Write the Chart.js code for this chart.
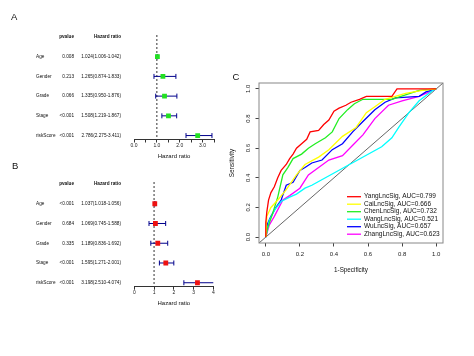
<!DOCTYPE html>
<html><head><meta charset="utf-8">
<script src="https://cdn.jsdelivr.net/npm/chart.js@4.4.0/dist/chart.umd.min.js"></script>
<style>
html,body{margin:0;padding:0;background:#fff;width:474px;height:356px;overflow:hidden;}
#wrap{position:relative;width:474px;height:356px;}
canvas{position:absolute;left:0;top:0;}
.lbl{position:absolute;font-family:"Liberation Sans",Arial,sans-serif;font-size:9.5px;line-height:9.5px;color:#111;}
</style></head><body>
<div id="wrap">
<canvas id="cA" width="474" height="356"></canvas>
<canvas id="cB" width="474" height="356"></canvas>
<canvas id="cC" width="474" height="356"></canvas>
<div class="lbl" style="left:11px;top:12px">A</div>
<div class="lbl" style="left:12px;top:161.4px">B</div>
<div class="lbl" style="left:232.5px;top:71.5px">C</div>
</div>
<script>
// ---------- data ----------
const rowNames = ['Age','Gender','Grade','Stage','riskScore'];
const uniP    = ['0.008','0.213','0.066','<0.001','<0.001'];
const uniHR   = [1.024, 1.265, 1.335, 1.508, 2.786];
const uniLow  = [1.006, 0.874, 0.950, 1.219, 2.275];
const uniHigh = [1.042, 1.833, 1.876, 1.867, 3.411];
const multiP    = ['<0.001','0.684','0.335','<0.001','<0.001'];
const multiHR   = [1.037, 1.069, 1.189, 1.595, 3.198];
const multiLow  = [1.018, 0.745, 0.836, 1.271, 2.510];
const multiHigh = [1.056, 1.588, 1.692, 2.001, 4.074];
const uniTicks   = [0, 0.5, 1, 1.5, 2, 2.5, 3, 3.5];
const multiTicks = [0, 1, 2, 3, 4];
const refHR = 1;

const rocTicks = [0, 0.2, 0.4, 0.6, 0.8, 1.0];
const rocNames = ['YangLncSig','CaiLncSig','ChenLncSig','WangLncSig','WuLncSig','ZhangLncSig'];
const rocAUC   = ['0.799','0.666','0.732','0.521','0.657','0.623'];
const yangFPR = [0,0,0.006,0.016,0.03,0.05,0.07,0.09,0.12,0.14,0.16,0.18,0.21,0.24,0.26,0.31,0.34,0.37,0.40,0.43,0.47,0.50,0.55,0.59,0.74,0.77,1];
const yangTPR = [0,0.10,0.17,0.25,0.30,0.34,0.40,0.45,0.49,0.53,0.56,0.60,0.63,0.66,0.71,0.72,0.76,0.79,0.85,0.87,0.89,0.91,0.93,0.95,0.95,1,1];
const caiFPR = [0,0.006,0.03,0.07,0.12,0.18,0.23,0.31,0.37,0.45,0.53,0.59,0.64,0.70,0.82,0.92,1];
const caiTPR = [0,0.14,0.20,0.25,0.32,0.42,0.49,0.54,0.59,0.68,0.74,0.84,0.88,0.93,0.97,0.99,1];
const chenFPR = [0,0.01,0.04,0.07,0.10,0.13,0.16,0.21,0.25,0.29,0.35,0.39,0.43,0.48,0.52,0.57,0.74,0.82,0.90,1];
const chenTPR = [0,0.06,0.16,0.27,0.42,0.47,0.53,0.56,0.60,0.63,0.67,0.71,0.80,0.86,0.90,0.93,0.93,0.96,0.99,1];
const wangFPR = [0,0.02,0.05,0.09,0.14,0.18,0.23,0.27,0.68,0.74,0.78,0.84,0.90,0.98,1];
const wangTPR = [0,0.11,0.18,0.24,0.27,0.29,0.33,0.35,0.61,0.67,0.74,0.84,0.92,0.99,1];
const wuFPR = [0,0.01,0.03,0.06,0.09,0.12,0.16,0.20,0.23,0.27,0.33,0.39,0.45,0.51,0.57,0.64,0.70,0.76,0.90,0.94,1];
const wuTPR = [0,0.09,0.14,0.20,0.25,0.35,0.37,0.45,0.47,0.50,0.52,0.59,0.63,0.71,0.78,0.86,0.91,0.94,0.95,0.98,1];
const zhangFPR = [0,0.02,0.05,0.10,0.14,0.20,0.25,0.31,0.37,0.45,0.51,0.57,0.64,0.72,0.80,0.90,0.96,1];
const zhangTPR = [0,0.08,0.14,0.25,0.28,0.33,0.42,0.47,0.52,0.55,0.62,0.69,0.80,0.89,0.92,0.95,0.98,1];

// ---------- styles ----------
const FONT = '"Liberation Sans", Arial, sans-serif';
const ROW_MIN = -0.1, ROW_MAX = 5.2;
Chart.defaults.font.family = FONT;
Chart.defaults.color = '#111';

function forestTable(pv) {
  return {
    id: 'table',
    afterDraw(chart) {
      const ctx = chart.ctx, y = chart.scales.y;
      ctx.save();
      ctx.fillStyle = '#111';
      ctx.textBaseline = 'middle';
      const hy = y.getPixelForValue(0);
      ctx.font = 'bold 4.7px ' + FONT;
      ctx.textAlign = 'right';
      ctx.fillText('pvalue', 74, hy);
      ctx.fillText('Hazard ratio', 121, hy);
      ctx.font = '4.7px ' + FONT;
      rowNames.forEach((n, i) => {
        const py = y.getPixelForValue(i + 1);
        ctx.textAlign = 'left';
        ctx.fillText(n, 36, py);
        ctx.textAlign = 'right';
        ctx.fillText(pv.p[i], 74, py);
        ctx.fillText(pv.hr[i].toFixed(3) + '(' + pv.lo[i].toFixed(3) + '-' + pv.hi[i].toFixed(3) + ')', 121, py);
      });
      ctx.restore();
    }
  };
}

function makeForest(id, hr, lo, hi, p, color, ticks, fmt, pad) {
  const datasets = [{
    data: hr.map((v, i) => ({x: v, y: i + 1})),
    pointStyle: 'rect', pointRadius: 3.4, backgroundColor: color, borderColor: color,
    pointBorderWidth: 0, showLine: false
  }];
  rowNames.forEach((n, i) => {
    datasets.push({
      data: [{x: lo[i], y: i + 1}, {x: hi[i], y: i + 1}],
      showLine: true, borderColor: '#00008B', borderWidth: 1,
      pointStyle: 'line', pointRotation: 90, pointRadius: 2.5,
      pointBorderColor: '#00008B', pointBorderWidth: 1, backgroundColor: '#00008B'
    });
  });
  datasets.push({
    data: [{x: refHR, y: ROW_MIN}, {x: refHR, y: ROW_MAX - 0.1}],
    showLine: true, borderColor: '#333', borderWidth: 1, borderDash: [2, 2], pointRadius: 0
  });
  return new Chart(document.getElementById(id), {
    type: 'scatter',
    data: {datasets},
    options: {
      responsive: false, animation: false, events: [],
      layout: {padding: pad},
      plugins: {legend: {display: false}, tooltip: {enabled: false}},
      scales: {
        x: {
          type: 'linear', min: ticks[0], max: ticks[ticks.length - 1],
          afterBuildTicks: s => { s.ticks = ticks.map(v => ({value: v})); },
          afterFit: s => { s.height = 22; },
          grid: {display: true, drawOnChartArea: false, drawTicks: true, tickLength: 3, color: '#333', tickColor: '#333'},
          border: {display: true, color: '#333', width: 1},
          ticks: {autoSkip: false, maxRotation: 0, padding: 0, font: {size: 5}, color: '#222', callback: fmt},
          title: {display: true, text: 'Hazard ratio', font: {size: 6}, color: '#111', padding: {top: 0, bottom: 2}}
        },
        y: {type: 'linear', display: false, reverse: true, min: ROW_MIN, max: ROW_MAX}
      }
    },
    plugins: [forestTable({p, hr, lo, hi})]
  });
}

makeForest('cA', uniHR, uniLow, uniHigh, uniP, '#22e022', uniTicks,
  v => (v % 1 === 0 ? v.toFixed(1) : ''),
  {left: 134, right: 260, top: 35, bottom: 356 - 139.5 - 22});
makeForest('cB', multiHR, multiLow, multiHigh, multiP, '#ee1111', multiTicks,
  v => String(v),
  {left: 134.3, right: 260.7, top: 182, bottom: 356 - 286.7 - 22});

// ---------- ROC ----------
const rocColors = ['#ff0000', '#ffff00', '#22ee22', '#00ffff', '#0000ff', '#ff00ff'];
const rocX = [yangFPR, caiFPR, chenFPR, wangFPR, wuFPR, zhangFPR];
const rocY = [yangTPR, caiTPR, chenTPR, wangTPR, wuTPR, zhangTPR];
const rocSets = rocNames.map((n, k) => ({
  label: n + ', AUC=' + rocAUC[k],
  data: rocX[k].map((x, i) => ({x, y: rocY[k][i]})),
  showLine: true, borderColor: rocColors[k], backgroundColor: rocColors[k],
  borderWidth: 1.3, pointRadius: 0
}));
rocSets.push({
  label: '',
  data: [{x: -0.04, y: -0.04}, {x: 1.04, y: 1.04}],
  showLine: true, borderColor: '#555', borderWidth: 0.9, pointRadius: 0
});

const rocBox = {
  id: 'rocBox',
  afterDraw(chart) {
    const {ctx, chartArea: a} = chart;
    ctx.save();
    ctx.strokeStyle = '#888'; ctx.lineWidth = 1;
    ctx.strokeRect(a.left, a.top, a.right - a.left, a.bottom - a.top);
    // legend
    const lx = 347, ly = 196.7, step = 7.5;
    ctx.font = '6.5px ' + FONT; ctx.textBaseline = 'middle'; ctx.textAlign = 'left';
    chart.data.datasets.slice(0, rocNames.length).forEach((d, i) => {
      const y = ly + i * step;
      ctx.strokeStyle = d.borderColor; ctx.lineWidth = 1.3;
      ctx.beginPath(); ctx.moveTo(lx, y); ctx.lineTo(lx + 14, y); ctx.stroke();
      ctx.fillStyle = '#111';
      ctx.fillText(d.label, lx + 17, y);
    });
    ctx.restore();
  }
};

new Chart(document.getElementById('cC'), {
  type: 'scatter',
  data: {datasets: rocSets},
  options: {
    responsive: false, animation: false, events: [],
    layout: {padding: {left: 228, right: 31, top: 83, bottom: 356 - 243 - 32}},
    plugins: {legend: {display: false}, tooltip: {enabled: false}},
    scales: {
      x: {
        type: 'linear', min: -0.04, max: 1.04,
        afterBuildTicks: s => { s.ticks = rocTicks.map(v => ({value: v})); },
        afterFit: s => { s.height = 32; },
        grid: {display: true, drawOnChartArea: false, drawTicks: true, tickLength: 3.5, tickColor: '#444'},
        border: {display: false},
        ticks: {autoSkip: false, maxRotation: 0, padding: 3.9, font: {size: 6}, color: '#222', callback: v => v.toFixed(1)},
        title: {display: true, text: '1-Specificity', font: {size: 6.3}, color: '#111', padding: {top: 0, bottom: 1.2}}
      },
      y: {
        type: 'linear', min: -0.04, max: 1.04,
        afterBuildTicks: s => { s.ticks = rocTicks.map(v => ({value: v})); },
        afterFit: s => { s.width = 31; },
        grid: {display: true, drawOnChartArea: false, drawTicks: true, tickLength: 3.5, tickColor: '#444'},
        border: {display: false},
        ticks: {autoSkip: false, minRotation: 90, maxRotation: 90, crossAlign: 'center', padding: 2.8, font: {size: 6}, color: '#222', callback: v => v.toFixed(1)},
        title: {display: true, text: 'Sensitivity', font: {size: 6.3}, color: '#111', padding: {top: 0.5, bottom: 0}}
      }
    }
  },
  plugins: [rocBox]
});
</script>
</body></html>
